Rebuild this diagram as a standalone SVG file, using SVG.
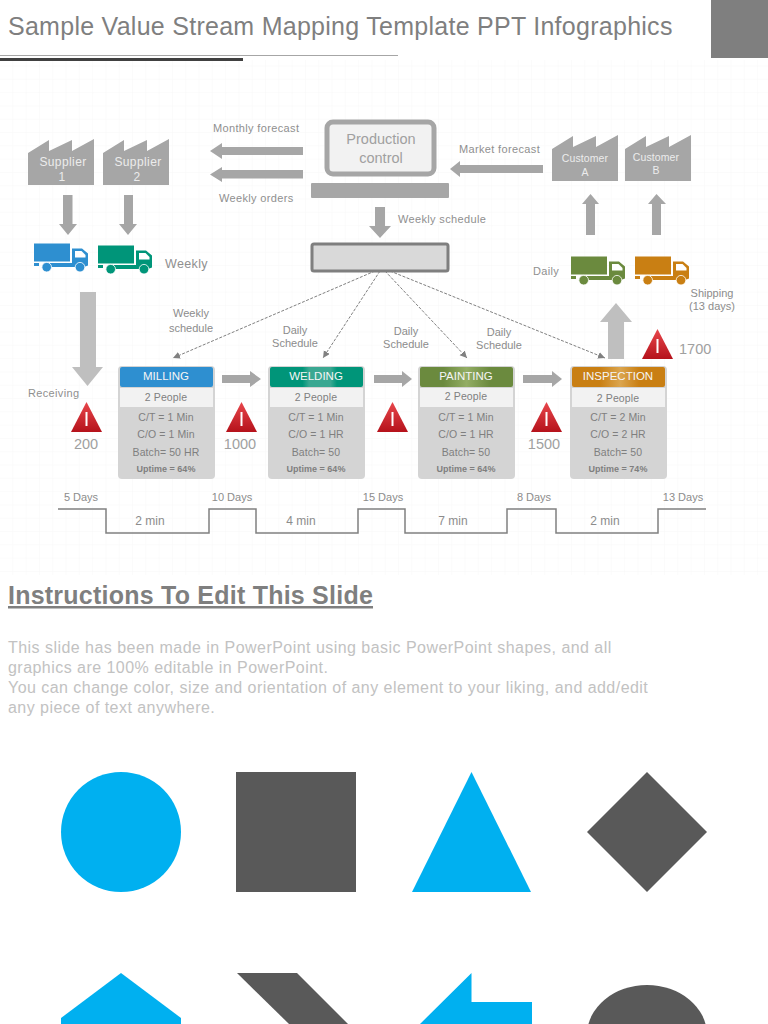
<svg xmlns="http://www.w3.org/2000/svg" xmlns:xlink="http://www.w3.org/1999/xlink" width="768" height="1024" viewBox="0 0 768 1024">
<style>
text{font-family:"Liberation Sans",Arial,sans-serif;fill:#8c8c8c;font-size:11px}
.m{text-anchor:middle}
.l{letter-spacing:.35px;fill:#8f8f8f}
.a{fill:#a6a6a6}
.f{fill:#a6a6a6}
.fl{fill:#ececec;font-size:12px;letter-spacing:.4px;text-anchor:middle}
.fc{fill:#ececec;font-size:10.5px;letter-spacing:.1px;text-anchor:middle}
.s{font-size:10.5px;letter-spacing:.1px;text-anchor:middle;fill:#7f7f7f}
.v{font-size:14.5px;text-anchor:middle;fill:#a0a0a0}
.h{fill:#f5f5f5;font-size:11.500px;text-anchor:middle}
.u{font-size:9px;font-weight:bold;text-anchor:middle;fill:#7f7f7f}
.b{fill:#c2c2c2;font-size:16px;letter-spacing:.46px}
.d{stroke:#808080;stroke-width:1;stroke-dasharray:3 1.500;fill:none;marker-end:url(#ah)}
.t{fill:none;stroke:#808080;stroke-width:1.500}
.blue{fill:#00b0f0}.dark{fill:#595959}
</style>
<defs>
<pattern id="grid" width="13.3" height="13.3" patternUnits="userSpaceOnUse"><path d="M13.3 0V13.3H0" fill="none" stroke="#f7f7f7" stroke-width="1"/></pattern>
<marker id="ah" markerWidth="8" markerHeight="8" refX="7" refY="3.500" orient="auto"><path d="M0 0L7 3.500L0 7Z" fill="#808080"/></marker>
<linearGradient id="red" x1="0" y1="0" x2="0" y2="1"><stop offset="0" stop-color="#e8474c"/><stop offset="1" stop-color="#b5121b"/></linearGradient>
<linearGradient id="gw"><stop offset=".35" stop-color="#009579"/><stop offset=".42" stop-color="#3aa892"/><stop offset=".65" stop-color="#3aa892"/><stop offset=".72" stop-color="#009579"/></linearGradient>
<linearGradient id="gp"><stop offset=".25" stop-color="#6b8a3e"/><stop offset=".5" stop-color="#93ad64"/><stop offset=".75" stop-color="#6b8a3e"/></linearGradient>
<linearGradient id="gi"><stop offset=".3" stop-color="#c97f13"/><stop offset=".52" stop-color="#dba54e"/><stop offset=".72" stop-color="#c97f13"/></linearGradient>
<g id="factory"><path d="M0 14L21 1V12L44 1V12L66 0V46H0Z"/></g>
<g id="truck"><path d="M0 0H36V18H0ZM0 19.500H5V22.500H0ZM15 19.500H38V5H48L54 10V22L50 23.500H16Z" fill="currentColor"/><path d="M41 7.500H47.500L51.500 11.500V14H41Z" fill="#fff"/><circle cx="12.700" cy="23.700" r="4.800" fill="currentColor" stroke="#fff" stroke-width=".8"/><circle cx="46" cy="23.700" r="4.800" fill="currentColor" stroke="#fff" stroke-width=".8"/></g>
<g id="warn"><path d="M15.500 0L31 30H0Z" fill="url(#red)"/><rect x="14.500" y="10" width="2" height="14" fill="#fff"/></g>
</defs>
<rect width="768" height="1024" fill="#fff"/>
<rect x="0" y="60" width="768" height="515" fill="url(#grid)"/>
<g id="header">
<text x="8" y="35" style="font-size:25px;letter-spacing:.27px;fill:#7f7f7f">Sample Value Stream Mapping Template PPT Infographics</text>
<rect x="0" y="55" width="398" height="1" fill="#a6a6a6"/>
<rect x="0" y="58" width="243" height="3" fill="#404040"/>
<rect x="711" y="0" width="57" height="58" fill="#7f7f7f"/>
</g>
<g id="connectors">
<path class="a" d="M63 195H72.500V224H77L68 235L59 224H63Z"/>
<path class="a" d="M124 195H133V224H137L128 235L119 224H124Z"/>
<path class="a" d="M303 147V155H222V159L210 151L222 143V147Z"/>
<path class="a" d="M303 170V178.500H222V182L210 174.500L222 167V170Z"/>
<path class="a" d="M375 207H385V226H391L380 238L369 226H375Z"/>
<path class="a" d="M543 165V173H460V177L450 169L460 161V165Z"/>
<path class="a" d="M586 235V204H582L590.500 194L599 204H595V235Z"/>
<path class="a" d="M652 235V204H648L656.500 194L666 204H661V235Z"/>
<path fill="#bfbfbf" d="M80 292H96V367H103L87.500 386L72 367H80Z"/>
<path fill="#bfbfbf" d="M608 359V322H600L616 303L632 322H624V359Z"/>
<path class="a" d="M222 375H250V371L261 379L250 387V383H222Z"/>
<path class="a" d="M374 375H402V371L412 379L402 387V383H374Z"/>
<path class="a" d="M523 375H552V371L562 379L552 387V383H523Z"/>
<path class="d" d="M375 271L173 358"/>
<path class="d" d="M380 271L323 358"/>
<path class="d" d="M385 271L467 358"/>
<path class="d" d="M390 271L605 358"/>
<path class="t" d="M58 509H106V533H209V509H256V533H358V509H405V533H507V509H556V533H658V509H706"/>
</g>
<g id="supplier-1"><use xlink:href="#factory" x="28" y="139" class="f"/><text class="fl" x="63" y="166">Supplier</text><text class="fl" x="62" y="181">1</text></g>
<g id="supplier-2"><use xlink:href="#factory" x="103" y="139" class="f"/><text class="fl" x="138" y="166">Supplier</text><text class="fl" x="137" y="181">2</text></g>
<g id="customer-a"><use xlink:href="#factory" x="552" y="135" class="f"/><text class="fc" x="585" y="162">Customer</text><text class="fc" x="585" y="176">A</text></g>
<g id="customer-b"><use xlink:href="#factory" x="625" y="135" class="f"/><text class="fc" x="656" y="161">Customer</text><text class="fc" x="656" y="174">B</text></g>
<g id="production-control">
<rect x="327" y="122" width="107" height="52" rx="6" fill="#f2f2f2" stroke="#a6a6a6" stroke-width="5"/>
<text class="v" x="381" y="144">Production</text><text class="v" x="381" y="163">control</text>
<rect x="311" y="183" width="138" height="15" rx="1" fill="#a6a6a6"/>
</g>
<g id="schedule-box"><rect x="312" y="244" width="136" height="27" rx="2" fill="#d9d9d9" stroke="#7f7f7f" stroke-width="3"/></g>
<g id="truck-blue" color="#2e8fd0"><use xlink:href="#truck" x="34" y="243.500"/></g>
<g id="truck-green" color="#009579"><use xlink:href="#truck" x="98" y="245.500"/></g>
<g id="truck-olive" color="#6b8a3e"><use xlink:href="#truck" x="571" y="256.500"/></g>
<g id="truck-orange" color="#c97f13"><use xlink:href="#truck" x="635" y="256.500"/></g>
<g id="labels">
<text class="l" x="213" y="132">Monthly forecast</text>
<text class="l" x="219" y="202">Weekly orders</text>
<text class="l" x="398" y="223">Weekly schedule</text>
<text class="l" x="459" y="153">Market forecast</text>
<text class="l" x="165" y="268" style="font-size:12.500px">Weekly</text>
<text class="l" x="533" y="275">Daily</text>
<text class="m" x="712" y="297">Shipping</text><text class="m" x="712" y="310">(13 days)</text>
<text class="m" x="191" y="317">Weekly</text><text class="m" x="191" y="332">schedule</text>
<text class="m" x="295" y="334">Daily</text><text class="m" x="295" y="347">Schedule</text>
<text class="m" x="406" y="335">Daily</text><text class="m" x="406" y="348">Schedule</text>
<text class="m" x="499" y="336">Daily</text><text class="m" x="499" y="349">Schedule</text>
<text class="l" x="28" y="397">Receiving</text>
<text class="v" x="86" y="449">200</text><text class="v" x="240" y="449">1000</text><text class="v" x="544" y="449">1500</text>
<text x="679" y="354" style="font-size:14.500px;fill:#a0a0a0">1700</text>
<text class="m" x="81" y="501">5 Days</text><text class="m" x="232" y="501">10 Days</text><text class="m" x="383" y="501">15 Days</text><text class="m" x="534" y="501">8 Days</text><text class="m" x="683" y="501">13 Days</text>
<text class="m" x="150" y="525" style="font-size:12px">2 min</text><text class="m" x="301" y="525" style="font-size:12px">4 min</text><text class="m" x="453" y="525" style="font-size:12px">7 min</text><text class="m" x="605" y="525" style="font-size:12px">2 min</text>
</g>
<g id="warnings">
<use xlink:href="#warn" x="71" y="402"/><use xlink:href="#warn" x="226" y="402"/><use xlink:href="#warn" x="377" y="402"/><use xlink:href="#warn" x="531" y="402"/><use xlink:href="#warn" x="642" y="329"/>
</g>
<g id="milling">
<rect x="118" y="366" width="97" height="113" rx="4" fill="#d4d4d4"/><rect x="120" y="367" width="93" height="20" rx="2" fill="#2e8fd0"/><rect x="120" y="388" width="93" height="19" fill="#f2f2f2"/>
<text class="h" x="166" y="380">MILLING</text><text class="s" x="166" y="401">2 People</text><text class="s" x="166" y="421">C/T = 1 Min</text><text class="s" x="166" y="438">C/O = 1 Min</text><text class="s" x="166" y="456">Batch= 50 HR</text><text class="u" x="166" y="472">Uptime = 64%</text>
</g>
<g id="welding">
<rect x="268" y="366" width="97" height="113" rx="4" fill="#d4d4d4"/><rect x="270" y="367" width="93" height="20" rx="2" fill="url(#gw)"/><rect x="270" y="388" width="93" height="19" fill="#f2f2f2"/>
<text class="h" x="316" y="380">WELDING</text><text class="s" x="316" y="401">2 People</text><text class="s" x="316" y="421">C/T = 1 Min</text><text class="s" x="316" y="438">C/O = 1 HR</text><text class="s" x="316" y="456">Batch= 50</text><text class="u" x="316" y="472">Uptime = 64%</text>
</g>
<g id="painting">
<rect x="418" y="366" width="97" height="113" rx="4" fill="#d4d4d4"/><rect x="420" y="367" width="93" height="20" rx="2" fill="url(#gp)"/><rect x="420" y="388" width="93" height="19" fill="#f2f2f2"/>
<text class="h" x="466" y="380">PAINTING</text><text class="s" x="466" y="400">2 People</text><text class="s" x="466" y="421">C/T = 1 Min</text><text class="s" x="466" y="438">C/O = 1 HR</text><text class="s" x="466" y="456">Batch= 50</text><text class="u" x="466" y="472">Uptime = 64%</text>
</g>
<g id="inspection">
<rect x="570" y="366" width="97" height="113" rx="4" fill="#d4d4d4"/><rect x="572" y="367" width="93" height="20" rx="2" fill="url(#gi)"/><rect x="572" y="388" width="93" height="19" fill="#f2f2f2"/>
<text class="h" x="618" y="380">INSPECTION</text><text class="s" x="618" y="402">2 People</text><text class="s" x="618" y="421">C/T = 2 Min</text><text class="s" x="618" y="438">C/O = 2 HR</text><text class="s" x="618" y="456">Batch= 50</text><text class="u" x="618" y="472">Uptime = 74%</text>
</g>
<g id="instructions">
<text x="8" y="604" style="font-size:25px;font-weight:bold;letter-spacing:.23px;fill:#7f7f7f;text-decoration:underline">Instructions To Edit This Slide</text>
<text class="b" x="8" y="653">This slide has been made in PowerPoint using basic PowerPoint shapes, and all</text>
<text class="b" x="8" y="673">graphics are 100% editable in PowerPoint.</text>
<text class="b" x="8" y="693">You can change color, size and orientation of any element to your liking, and add/edit</text>
<text class="b" x="8" y="713">any piece of text anywhere.</text>
</g>
<g id="shapes">
<circle class="blue" cx="121" cy="832" r="60"/>
<rect class="dark" x="236" y="772" width="120" height="120"/>
<path class="blue" d="M471.500 772L531 892H412Z"/>
<path class="dark" d="M647 772L707 832L647 892L587 832Z"/>
<path class="blue" d="M121 973L181 1018V1030H61V1018Z"/>
<path class="dark" d="M237 973H297L348 1024H289Z"/>
<path class="blue" d="M471.500 973V1002H532V1024H420Z"/>
<ellipse class="dark" cx="647" cy="1035" rx="60" ry="50"/>
</g>
</svg>
